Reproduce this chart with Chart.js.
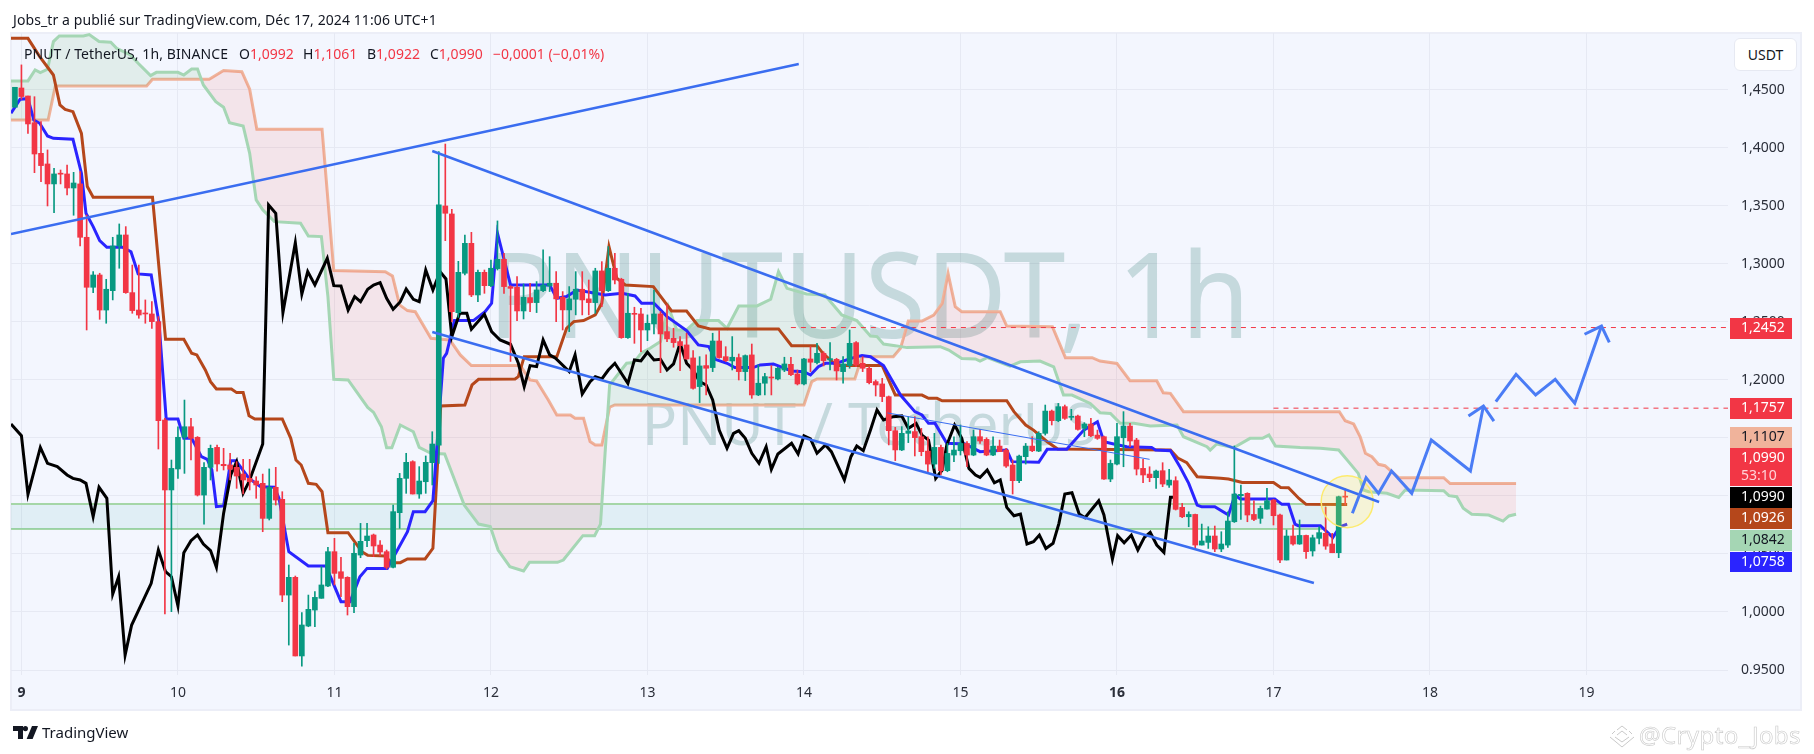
<!DOCTYPE html>
<html lang="fr">
<head>
<meta charset="utf-8">
<title>PNUT / TetherUS, 1h</title>
<script src="https://cdn.jsdelivr.net/npm/chart.js@4/dist/chart.umd.min.js"></script>
<style>
    html, body { margin: 0; padding: 0; background: #fff; }
    #wrap { position: relative; width: 1814px; height: 754px; overflow: hidden; font-family: "Noto Sans", sans-serif; color: #131722; }
    canvas { position: absolute; left: 0; top: 0; }
    .txt { position: absolute; white-space: nowrap; line-height: 1; font-size: 14px; }
    .red { color: #f23645; }
    #usdt { position: absolute; left: 1734px; top: 38px; width: 61px; height: 31px; background: #fff; border: 1px solid #e6e9f2; border-radius: 6px; text-align: center; line-height: 31px; font-size: 14px; }
    #mark { -webkit-text-stroke: 0.6px #c9c9c9; color: #fff; font-size: 24px; letter-spacing: 0.4px; }
</style>
</head>
<body>
<div id="wrap">
    <canvas id="chart" width="1814" height="754"></canvas>
    <div class="txt" style="left:13px;top:13px;letter-spacing:0.09px">Jobs_tr a publié sur TradingView.com, Déc 17, 2024 11:06 UTC+1</div>
    <div class="txt" style="left:24px;top:47px;letter-spacing:0.08px">PNUT / TetherUS, 1h, BINANCE</div>
    <div class="txt" style="left:239px;top:47px">O<span class="red">1,0992</span></div>
    <div class="txt" style="left:303px;top:47px">H<span class="red">1,1061</span></div>
    <div class="txt" style="left:367px;top:47px">B<span class="red">1,0922</span></div>
    <div class="txt" style="left:430px;top:47px">C<span class="red">1,0990</span></div>
    <div class="txt red" style="left:493px;top:47px">−0,0001 (−0,01%)</div>
    <div id="usdt">USDT</div>
    <svg style="position:absolute;left:13px;top:726px" width="25" height="13" viewBox="0 0 25 13"><path fill="#131722" d="M0 0h10v13H5V5H0zM15 2.6a2.6 2.6 0 1 1-5.2 0 2.6 2.6 0 0 1 5.2 0zM19 0h6l-5.4 13h-6z"/></svg>
    <div class="txt" style="left:42px;top:725px;font-size:15px">TradingView</div>
    <svg style="position:absolute;left:1608px;top:724px" width="28" height="24" viewBox="0 0 28 24" fill="none" stroke="#c9c9c9" stroke-width="1"><path d="M9 6l5-4 5 4M4 10l3-3M24 10l-3-3M9 11l5-4 5 4M2 13l12 10 12-10M7 13l7 5 7-5"/></svg>
    <div class="txt" id="mark" style="left:1639px;top:723px">@Crypto_Jobs</div>
</div>
<script>
// Hourly candles, first one is Dec 8 23:00, last one is Dec 17 11:00
const firstCandleHour = -1;
const candleOpen = [
    1.4351,1.4517,1.4448,1.4218,1.3954,1.3862,1.3690,1.3782,1.3776,1.3655,
    1.3690,1.3230,1.2799,1.2905,1.2603,1.2770,1.3155,1.3250,1.2753,1.2603,
    1.2575,1.2569,1.2503,1.1655,1.1052,1.1233,1.1506,1.1597,1.1506,1.1008,
    1.1247,1.1419,1.1273,1.1267,1.1247,1.1189,1.1152,1.1129,1.1109,1.0807,
    1.1075,1.0971,1.0146,1.0299,0.9621,0.9879,1.0017,1.0118,1.0224,1.0520,
    1.0347,1.0299,1.0046,1.0491,1.0615,1.0664,1.0577,1.0520,1.0385,1.0856,
    1.1152,1.1296,1.1017,1.1123,1.1287,1.1439,1.3500,1.3431,1.2580,1.2920,
    1.3178,1.2733,1.2928,1.2813,1.2960,1.3040,1.2805,1.2799,1.2595,1.2710,
    1.2667,1.2770,1.2811,1.2834,1.2713,1.2604,1.2696,1.2782,1.2699,1.2667,
    1.2940,1.2770,1.2963,1.2868,1.2365,1.2569,1.2569,1.2431,1.2483,1.2569,
    1.2417,1.2359,1.2331,1.2302,1.2190,1.1943,1.2124,1.2107,1.2336,1.2201,
    1.2164,1.2193,1.2072,1.2216,1.1871,1.1972,1.2023,1.2009,1.2086,1.2135,
    1.2052,1.1966,1.2181,1.2150,1.2230,1.2173,1.2178,1.2072,1.2124,1.2322,
    1.2144,1.2101,1.1986,1.1966,1.1856,1.1563,1.1397,1.1540,1.1555,1.1511,
    1.1387,1.1275,1.1419,1.1218,1.1353,1.1390,1.1453,1.1353,1.1511,1.1488,
    1.1353,1.1430,1.1396,1.1267,1.1132,1.1339,1.1430,1.1387,1.1540,1.1732,
    1.1649,1.1770,1.1678,1.1689,1.1583,1.1620,1.1525,1.1511,1.1146,1.1275,
    1.1502,1.1603,1.1482,1.1238,1.1189,1.1158,1.1218,1.1094,1.1132,1.0902,
    1.0821,1.0841,1.0577,1.0600,1.0655,1.0543,1.0577,1.0778,1.1002,1.1023,
    1.0841,1.0807,1.0887,1.0965,1.0836,1.0448,1.0655,1.0586,1.0660,1.0526,
    1.0635,1.0678,1.0586,1.0511,1.0992
];
const candleClose = [
    1.4523,1.4443,1.4207,1.3948,1.3848,1.3690,1.3776,1.3774,1.3655,1.3698,
    1.3230,1.2799,1.2905,1.2603,1.2782,1.3155,1.3250,1.2753,1.2598,1.2560,
    1.2569,1.2503,1.1649,1.1052,1.1238,1.1506,1.1597,1.1497,1.1008,1.1247,
    1.1411,1.1276,1.1261,1.1230,1.1172,1.1138,1.1123,1.1095,1.0807,1.1075,
    1.0965,1.0146,1.0299,0.9621,0.9888,1.0023,1.0126,1.0233,1.0520,1.0333,
    1.0290,1.0046,1.0506,1.0609,1.0655,1.0569,1.0517,1.0385,1.0865,1.1152,
    1.1290,1.1017,1.1129,1.1290,1.1448,1.3509,1.3437,1.2589,1.2928,1.3178,
    1.2733,1.2928,1.2813,1.2963,1.3040,1.2805,1.2790,1.2595,1.2713,1.2667,
    1.2776,1.2819,1.2834,1.2699,1.2604,1.2699,1.2782,1.2690,1.2667,1.2940,
    1.2770,1.2963,1.2862,1.2365,1.2575,1.2566,1.2431,1.2489,1.2569,1.2397,
    1.2354,1.2322,1.2296,1.2181,1.1928,1.2121,1.2101,1.2336,1.2193,1.2167,
    1.2196,1.2072,1.2210,1.1871,1.1972,1.2029,1.2017,1.2101,1.2138,1.2046,
    1.1966,1.2181,1.2153,1.2230,1.2167,1.2184,1.2078,1.2138,1.2316,1.2130,
    1.2101,1.1977,1.1957,1.1857,1.1563,1.1397,1.1540,1.1561,1.1503,1.1382,
    1.1275,1.1419,1.1218,1.1367,1.1396,1.1453,1.1353,1.1511,1.1474,1.1353,
    1.1430,1.1382,1.1258,1.1132,1.1344,1.1430,1.1390,1.1540,1.1732,1.1649,
    1.1770,1.1669,1.1683,1.1574,1.1620,1.1520,1.1497,1.1146,1.1281,1.1511,
    1.1603,1.1474,1.1232,1.1181,1.1158,1.1215,1.1103,1.1137,1.0885,1.0821,
    1.0841,1.0577,1.0612,1.0655,1.0543,1.0586,1.0784,1.1017,1.1014,1.0836,
    1.0798,1.0893,1.0959,1.0830,1.0448,1.0655,1.0586,1.0660,1.0520,1.0640,
    1.0684,1.0568,1.0511,1.0994,1.0990
];
const candleHigh = [
    1.4523,1.4716,1.4448,1.4442,1.4227,1.3983,1.3825,1.3810,1.3853,1.3790,
    1.3796,1.3422,1.2934,1.2920,1.2868,1.3230,1.3345,1.3322,1.2991,1.2991,
    1.2690,1.2675,1.2546,1.1669,1.1310,1.1597,1.1827,1.1669,1.1512,1.1287,
    1.1439,1.1439,1.1411,1.1368,1.1296,1.1316,1.1316,1.1166,1.1189,1.1233,
    1.1247,1.1037,1.0405,1.0310,0.9994,1.0146,1.0175,1.0391,1.0557,1.0635,
    1.0471,1.0304,1.0592,1.0764,1.0764,1.0672,1.0615,1.0534,1.0922,1.1195,
    1.1368,1.1304,1.1253,1.1345,1.1554,1.3968,1.4034,1.3471,1.3023,1.3250,
    1.3273,1.2948,1.2948,1.3034,1.3371,1.3092,1.2813,1.2891,1.2828,1.2834,
    1.2848,1.3121,1.3063,1.2934,1.2762,1.2805,1.2934,1.2934,1.2862,1.2963,
    1.3020,1.3150,1.3092,1.2877,1.2747,1.2627,1.2618,1.2561,1.2776,1.2589,
    1.2647,1.2446,1.2374,1.2403,1.2253,1.2201,1.2216,1.2403,1.2426,1.2287,
    1.2374,1.2224,1.2216,1.2310,1.2130,1.2058,1.2124,1.2109,1.2196,1.2196,
    1.2086,1.2187,1.2288,1.2316,1.2244,1.2322,1.2187,1.2201,1.2431,1.2331,
    1.2201,1.2115,1.2000,1.2014,1.1862,1.1592,1.1598,1.1684,1.1684,1.1583,
    1.1511,1.1540,1.1439,1.1453,1.1511,1.1612,1.1468,1.1568,1.1574,1.1502,
    1.1511,1.1482,1.1410,1.1310,1.1353,1.1453,1.1511,1.1554,1.1784,1.1741,
    1.1798,1.1784,1.1747,1.1698,1.1632,1.1669,1.1568,1.1517,1.1310,1.1626,
    1.1727,1.1626,1.1497,1.1316,1.1252,1.1224,1.1287,1.1229,1.1166,1.0936,
    1.0864,1.0844,1.0758,1.0735,1.0741,1.0692,1.0864,1.1431,1.1094,1.1028,
    1.0959,1.0913,1.1066,1.0971,1.0844,1.0707,1.0750,1.0793,1.0663,1.0663,
    1.0735,1.0902,1.0678,1.0999,1.1061
];
const candleLow = [
    1.4351,1.4420,1.4126,1.3787,1.3710,1.3500,1.3443,1.3690,1.3595,1.3420,
    1.3155,1.2431,1.2753,1.2523,1.2489,1.2690,1.2963,1.2747,1.2575,1.2532,
    1.2489,1.2445,1.1405,0.9983,1.0003,1.1152,1.1195,1.1310,1.1000,1.0758,
    1.1138,1.1215,1.1224,1.1138,1.1066,1.1017,1.1052,1.0980,1.0692,1.0793,
    1.0922,1.0089,0.9715,0.9621,0.9534,0.9873,0.9873,1.0118,1.0218,1.0233,
    1.0132,0.9974,0.9994,1.0468,1.0563,1.0477,1.0485,1.0370,1.0379,1.0721,
    1.1023,1.1017,1.0980,1.1023,1.1095,1.1281,1.3201,1.2503,1.2540,1.2905,
    1.2718,1.2675,1.2747,1.2805,1.2948,1.2747,1.2160,1.2512,1.2526,1.2589,
    1.2581,1.2762,1.2762,1.2503,1.2431,1.2417,1.2561,1.2561,1.2561,1.2575,
    1.2632,1.2762,1.2828,1.2359,1.2359,1.2316,1.2245,1.2339,1.2397,1.2063,
    1.2331,1.2282,1.2081,1.2178,1.1920,1.1805,1.1871,1.2072,1.2187,1.2158,
    1.2086,1.2000,1.1995,1.1842,1.1865,1.1871,1.1871,1.2000,1.2072,1.2037,
    1.1957,1.1957,1.2072,1.2138,1.2121,1.2086,1.2000,1.1972,1.2101,1.2115,
    1.2072,1.1966,1.1862,1.1813,1.1440,1.1305,1.1391,1.1460,1.1345,1.1347,
    1.1195,1.1238,1.1181,1.1209,1.1295,1.1353,1.1252,1.1347,1.1453,1.1347,
    1.1347,1.1382,1.1247,1.1017,1.1114,1.1275,1.1382,1.1382,1.1525,1.1612,
    1.1640,1.1660,1.1655,1.1568,1.1511,1.1511,1.1488,1.1143,1.1123,1.1267,
    1.1252,1.1425,1.1181,1.1114,1.1123,1.1066,1.1080,1.1074,1.0879,1.0813,
    1.0735,1.0540,1.0577,1.0548,1.0520,1.0520,1.0557,1.0772,1.0798,1.0778,
    1.0787,1.0764,1.0887,1.0750,1.0425,1.0448,1.0577,1.0583,1.0462,1.0482,
    1.0586,1.0540,1.0511,1.0468,1.0922
];

// Ichimoku lines as [hour, price] pairs
const tenkan = [
    [-1.6,1.4300],[-0.2,1.4420],[1,1.4425],[1.9,1.4241],[2.8,1.4213],[4,1.4103],[4.9,1.4083],[7.9,1.4075],[9.2,1.3782],[9.9,1.3437],
    [11,1.3322],[12,1.3201],[13.1,1.3144],[15.5,1.3144],[16.8,1.3106],[17.9,1.2914],[19.9,1.2905],[21.1,1.2489],[22.2,1.1664],[24,1.1664],
    [24.9,1.1497],[26.1,1.1497],[27.6,1.1339],[28.5,1.1316],[29.2,1.1224],[29.9,1.0908],[31,1.0914],[32.1,1.1304],[32.9,1.1304],[34.9,1.1152],
    [36.7,1.1080],[38.8,1.1075],[39.5,1.0980],[41,1.0520],[44,1.0396],[46.7,1.0396],[49,1.0089],[50.4,1.0089],[51.9,1.0304],[53,1.0376],
    [56.1,1.0376],[59.2,1.0692],[60.1,1.0865],[61.9,1.0865],[63.1,1.0960],[64.7,1.2187],[65.2,1.2230],[66.4,1.2512],[69.3,1.2512],[71.1,1.2589],
    [72.1,1.2661],[73,1.3265],[75,1.2819],[81,1.2819],[82.1,1.2704],[83.6,1.2719],[85.2,1.2776],[89.5,1.2733],[92.1,1.2747],[94.1,1.2724],
    [95.1,1.2661],[97,1.2661],[99,1.2546],[102,1.2426],[103.8,1.2302],[105.4,1.2288],[106.4,1.2178],[108.2,1.2144],[109.4,1.2107],[112.2,1.2107],
    [113.3,1.2130],[115.3,1.2138],[118.1,1.2078],[120,1.2072],[121,1.2043],[122.2,1.2115],[123.3,1.2144],[125,1.2144],[127.6,1.2193],[128.9,1.2210],
    [130.2,1.2201],[132.2,1.2124],[134.8,1.1870],[137,1.1727],[138.1,1.1698],[139.1,1.1626],[140.1,1.1626],[141.9,1.1454],[144.7,1.1448],[147,1.1382],
    [151.1,1.1396],[151.9,1.1296],[156,1.1290],[157.3,1.1402],[160.3,1.1402],[162.9,1.1568],[165,1.1640],[166,1.1468],[167.5,1.1448],[169.5,1.1425],
    [173.3,1.1419],[173.9,1.1396],[176.2,1.1390],[177.7,1.1247],[179,1.1109],[180.3,1.0922],[181,1.0907],[183,1.0907],[185.1,1.0836],[186.1,1.1008],
    [186.9,1.0974],[192.2,1.0974],[193.3,1.0928],[194.3,1.0928],[195.3,1.0758],[195.8,1.0744],[199.2,1.0744],[201.1,1.0643],[202.2,1.0735],[203.3,1.0758]
];
const kijun = [
    [-1.6,1.4945],[1,1.4945],[2.8,1.4787],[4.9,1.4629],[5.9,1.4371],[6.7,1.4333],[7.9,1.4313],[9.2,1.4126],[10.1,1.3667],[11,1.3575],
    [20.1,1.3575],[22.1,1.2351],[24.9,1.2351],[26.1,1.2230],[26.9,1.2216],[28.2,1.2086],[29,1.1985],[29.9,1.1922],[32.2,1.1922],[33,1.1891],
    [34,1.1891],[34.9,1.1692],[35.8,1.1664],[40,1.1664],[41.3,1.1497],[42.1,1.1310],[42.9,1.1267],[44,1.1109],[45.2,1.1100],[46.1,1.1037],
    [47,1.0684],[50.1,1.0684],[52.2,1.0520],[53.1,1.0488],[55.8,1.0483],[56.7,1.0425],[58.1,1.0425],[59.2,1.0457],[61.9,1.0457],[63.1,1.0549],
    [64.3,1.1776],[68,1.1785],[69.1,1.1957],[70.1,1.2006],[75.7,1.2009],[76.2,1.2029],[77.1,1.2201],[82.1,1.2201],[83.6,1.2446],[84.7,1.2503],
    [86.2,1.2512],[88,1.2561],[89,1.2661],[90.1,1.3150],[91.3,1.2877],[92.6,1.2819],[96.9,1.2805],[99.7,1.2595],[102,1.2595],[103.8,1.2466],
    [105.6,1.2440],[116.1,1.2440],[118.1,1.2296],[122,1.2296],[122.9,1.2230],[125,1.2124],[132,1.2124],[134,1.1871],[138.1,1.1870],[139.1,1.1842],
    [140.4,1.1842],[141.2,1.1821],[151.1,1.1821],[152.2,1.1727],[154,1.1612],[155.2,1.1568],[157.3,1.1468],[158.9,1.1405],[176.2,1.1396],[177.4,1.1324],
    [178.7,1.1287],[180.3,1.1166],[183.9,1.1152],[185.1,1.1146],[187.2,1.1117],[192,1.1117],[193.1,1.1074],[194.3,1.1071],[195.9,1.0979],[197,1.0928],
    [203.3,1.0926]
];
const senkouA = [
    [-1.6,1.4578],[1,1.4578],[2.1,1.4672],[2.9,1.4649],[4,1.4678],[4.9,1.4917],[5.8,1.4966],[9.5,1.4966],[10.4,1.4977],[11.9,1.4917],
    [13.7,1.4911],[14.6,1.4859],[16.7,1.4802],[17.9,1.4730],[19.8,1.4624],[20.7,1.4652],[24,1.4652],[24.9,1.4629],[26.1,1.4681],[27,1.4681],
    [27.9,1.4543],[29.8,1.4399],[31,1.4351],[31.9,1.4218],[34,1.4190],[35,1.3954],[36,1.3552],[37,1.3466],[38.8,1.3365],[42.8,1.3351],
    [44,1.3241],[46,1.3236],[47,1.2718],[47.9,1.2006],[50.1,1.2000],[53.1,1.1764],[54,1.1721],[55.2,1.1597],[56,1.1416],[56.8,1.1416],
    [58.1,1.1612],[60.1,1.1554],[61,1.1419],[62.8,1.1368],[64.9,1.1362],[67.9,1.0922],[70.1,1.0758],[71.9,1.0736],[73.1,1.0534],[74.9,1.0391],
    [77,1.0353],[77.9,1.0428],[82.2,1.0428],[83.1,1.0448],[86.1,1.0658],[87.9,1.0658],[88.8,1.0758],[89.5,1.1368],[90.2,1.1957],[92.8,1.2144],
    [93.9,1.2150],[95.1,1.2236],[96.4,1.2273],[98,1.2331],[99.2,1.2632],[100.5,1.2431],[102,1.2431],[103.6,1.2512],[106.9,1.2512],[108.2,1.2446],
    [110,1.2638],[112.8,1.2638],[114.9,1.2696],[116.1,1.2934],[117.4,1.2790],[120.4,1.2741],[123.2,1.2733],[125.8,1.2561],[128.1,1.2512],[130.2,1.2379],
    [131.2,1.2374],[132.2,1.2310],[134,1.2296],[135.8,1.2279],[140.9,1.2287],[142.2,1.2258],[144.2,1.2186],[146.3,1.2181],[147,1.2163],[148.1,1.2192],
    [151.6,1.2120],[153.2,1.2157],[156.2,1.2163],[158.3,1.2114],[159.8,1.1870],[161.1,1.1870],[163.9,1.1798],[165.4,1.1718],[167,1.1712],[168.5,1.1626],
    [170.6,1.1626],[173.1,1.1603],[177.2,1.1612],[178.2,1.1511],[181.8,1.1425],[182.3,1.1396],[183.3,1.1448],[185.9,1.1416],[188.4,1.1497],[190.3,1.1497],
    [191.3,1.1525],[192.3,1.1431],[196.1,1.1417],[199.2,1.1411],[202,1.1397],[203.5,1.1296],[205,1.1195],[205.8,1.1052],[206.6,1.1037],[209.4,1.1023],
    [211.2,1.0988],[212.2,1.1052],[218.1,1.1046],[218.9,1.1003],[220.1,1.0994],[221.1,1.0894],[222.4,1.0842],[225,1.0836],[227.2,1.0784],[228.1,1.0828],
    [229.2,1.0842]
];
const senkouB = [
    [-1.6,1.4241],[4.1,1.4241],[5.2,1.4534],[19.2,1.4534],[20.1,1.4592],[28.8,1.4592],[31,1.4667],[33.8,1.4658],[35,1.4506],[36.1,1.4161],
    [46.1,1.4161],[47.9,1.2943],[55.8,1.2934],[56.9,1.2897],[58,1.2647],[59.2,1.2598],[60.4,1.2589],[62.8,1.2359],[65.7,1.2345],[67.3,1.2216],
    [69,1.2124],[76.5,1.2124],[78,1.2000],[79,1.1992],[80.8,1.1828],[82.1,1.1698],[84.2,1.1698],[84.9,1.1670],[86.2,1.1670],[87.2,1.1469],
    [88,1.1440],[89,1.1440],[90.2,1.1765],[91,1.1785],[120,1.1785],[121.2,1.1986],[122,1.2009],[127.8,1.2009],[128.9,1.2201],[133.7,1.2201],
    [134.8,1.2273],[136,1.2508],[138.1,1.2508],[139.9,1.2560],[141.2,1.2660],[142.1,1.2919],[143.2,1.2632],[144.2,1.2589],[150.1,1.2589],[151.1,1.2465],
    [158.1,1.2459],[160.1,1.2192],[164.2,1.2192],[165.4,1.2163],[168,1.2143],[170,1.1994],[174.1,1.1994],[175.1,1.1890],[176.2,1.1885],[178.2,1.1727],
    [202.1,1.1727],[203,1.1649],[204.3,1.1621],[205.3,1.1511],[206.1,1.1368],[207.1,1.1339],[208.1,1.1273],[209.1,1.1261],[211.2,1.1158],[218.1,1.1158],
    [219.1,1.1107],[229.2,1.1107]
];
const chikou = [
    [-1.6,1.1620],[0,1.1520],[1,1.1014],[2.9,1.1419],[4,1.1281],[5.5,1.1253],[7,1.1181],[7.9,1.1152],[9,1.1138],[9.9,1.1109],
    [11,1.0822],[11.9,1.1075],[13.1,1.0980],[14,1.0155],[14.9,1.0304],[15.9,0.9629],[16.9,0.9888],[19.9,1.0247],[21,1.0534],[22.1,1.0348],
    [23,1.0304],[24,1.0052],[24.9,1.0511],[26,1.0615],[27,1.0664],[27.9,1.0586],[29,1.0529],[29.9,1.0385],[31,1.0850],[32.1,1.1181],
    [33,1.1296],[34,1.1023],[34.9,1.1123],[37,1.1448],[37.9,1.3509],[39,1.3437],[40.1,1.2580],[42,1.3184],[43,1.2741],[43.9,1.2934],
    [45,1.2819],[46.9,1.3049],[47.9,1.2813],[49,1.2810],[50.1,1.2603],[51.1,1.2718],[52,1.2675],[53.1,1.2782],[54,1.2819],[55,1.2839],
    [56,1.2704],[57,1.2609],[58.1,1.2675],[59,1.2784],[60.1,1.2695],[61,1.2675],[62,1.2948],[63.1,1.2776],[64.2,1.2934],[65.1,1.2871],
    [66,1.2374],[67.2,1.2575],[68.3,1.2575],[69,1.2437],[71,1.2566],[72.1,1.2417],[73.4,1.2345],[75,1.2308],[76.2,1.2144],[77.1,1.1943],
    [78,1.2124],[79,1.2115],[80,1.2345],[81,1.2216],[81.9,1.2187],[84,1.2072],[84.9,1.2216],[86,1.1880],[87.2,1.1986],[88,1.2029],
    [89,1.2009],[90,1.2086],[91,1.2144],[93,1.1971],[94,1.2173],[95,1.2164],[96,1.2239],[97,1.2173],[98,1.2178],[99,1.2086],
    [100,1.2138],[101,1.2316],[102,1.2144],[103,1.2086],[104,1.1986],[105,1.1957],[106,1.1828],[107,1.1569],[108.2,1.1411],[109.2,1.1540],
    [110,1.1563],[111,1.1497],[112,1.1368],[113.1,1.1282],[114.2,1.1425],[115,1.1230],[116,1.1362],[118.1,1.1454],[119.1,1.1362],[120,1.1518],
    [121,1.1492],[122,1.1368],[123.3,1.1440],[124.2,1.1382],[126.2,1.1138],[127.2,1.1339],[128.1,1.1431],[129.1,1.1391],[130.2,1.1569],[131.2,1.1742],
    [132.2,1.1655],[133.7,1.1684],[135,1.1690],[136,1.1583],[137.2,1.1626],[138.1,1.1525],[139.1,1.1482],[140.2,1.1152],[141.2,1.1224],[141.9,1.1439],
    [143.1,1.1612],[144.2,1.1497],[145.3,1.1238],[146.3,1.1181],[147,1.1160],[148.1,1.1224],[149.2,1.1114],[150.1,1.1138],[151.1,1.0902],[152.2,1.0830],
    [153.2,1.0844],[154.2,1.0586],[155.2,1.0606],[156.1,1.0663],[157.1,1.0548],[158.2,1.0592],[159.1,1.0764],[160,1.1017],[161.1,1.1028],[162.2,1.0844],
    [163.1,1.0813],[165.2,1.0959],[166,1.0836],[167.3,1.0456],[168.1,1.0658],[169.1,1.0597],[170.2,1.0663],[171.2,1.0534],[172.2,1.0643],[173.1,1.0686],
    [174.1,1.0577],[175.2,1.0514],[176.2,1.0990],[176.7,1.0990]
];

// Drawn lines and zones
const risingLine = [[-1.6,1.3259],[119.2,1.4724]];
const upperChannel = [[63,1.3974],[208.2,1.0948]];
const lowerChannel = [[63,1.2414],[198.2,1.0250]];
const thinLine = [[132.8,1.1716],[173,1.1316]];
const zoneTop = [[-1.6,1.0931],[200,1.0931]];
const zoneBottom = [[-1.6,1.0716],[200,1.0716]];
const zoneEdge = [[200,1.0931],[200,1.0716]];
const targetHigh = [[118,1.2452],[261.7,1.2452]];
const targetLow = [[192,1.1757],[261.7,1.1757]];
const forecastA = [[204.1,1.0851],[206.2,1.1158],[208.1,1.1023],[210.1,1.1215],[213.2,1.1023],[216.2,1.1483],[222.2,1.1215],[224.2,1.1776]];
const forecastHeadA = [[221.9,1.1690],[224.2,1.1776],[225.8,1.1646]];
const forecastB = [[226.1,1.1813],[229.2,1.2049],[232.2,1.1871],[235.2,1.2006],[238.2,1.1799],[242.3,1.2465]];
const forecastHeadB = [[239.7,1.2394],[242.3,1.2465],[243.5,1.2325]];
const highlight = [[203.3,1.0951]];

// Axis ticks
const dayTicks = [0,24,48,72,96,120,144,168,192,216,240];
const dayLabels = ['9','10','11','12','13','14','15','16','17','18','19'];
const boldDays = ['9','16'];
const priceTicks = [1.45,1.40,1.35,1.30,1.25,1.20,1.15,1.10,1.05,1.00,0.95];
const priceLabels = ['1,4500','1,4000','1,3500','1,3000','1,2500','1,2000','1,1500','1,1000','1,0500','1,0000','0.9500'];

// Price tags stacked on the right axis
const tagValues = [1.2452,1.1757,1.1107,1.0990,1.0990,1.0926,1.0842,1.0758];
const tagColors = ['#f23645','#f23645','#f0b39b','#f23645','#000000','#b5471b','#a5d6b4','#2a24ff'];
const tagText = ['#fff','#fff','#131722','#fff','#fff','#fff','#131722','#fff'];
const tagTops = [318,398,427,448,487,508,530,552];
const tagHeights = [21,21,21,38,21,21,21,20];
const countdown = '53:10';

const FONT = '"Noto Sans", sans-serif';
const pts = pairs => pairs.map(([x, y]) => ({ x, y }));
const candleHours = candleOpen.map((_, i) => firstCandleHour + i);
const candleColor = candleOpen.map((o, i) => candleClose[i] >= o ? '#089981' : '#f23645');

function lineSet(data, color, width, order, extra) {
    return Object.assign({
        type: 'line', data: pts(data), borderColor: color, borderWidth: width,
        pointRadius: 0, tension: 0, fill: false, order
    }, extra || {});
}

// Page panel and the big symbol text behind the series
const backdrop = {
    id: 'backdrop',
    beforeDraw(chart) {
        const { ctx } = chart;
        ctx.save();
        ctx.fillStyle = '#f3f6fe';
        ctx.fillRect(11, 33, 1790, 677);
        ctx.strokeStyle = '#eceef7';
        ctx.lineWidth = 2;
        ctx.strokeRect(11, 33, 1790, 677);
        ctx.restore();
    },
    beforeDatasetsDraw(chart) {
        const { ctx } = chart;
        ctx.save();
        ctx.fillStyle = 'rgba(30,110,100,0.21)';
        ctx.font = '119px ' + FONT;
        ctx.fillText('PNUTUSDT, 1h', 488, 338, 762);
        ctx.font = '59px ' + FONT;
        ctx.fillText('PNUT / TetherUS', 642, 445, 455);
        ctx.restore();
    }
};

// Last value tags next to the price scale
const priceTags = {
    id: 'priceTags',
    afterDraw(chart) {
        const { ctx } = chart;
        ctx.save();
        ctx.textBaseline = 'middle';
        tagValues.forEach((value, i) => {
            ctx.fillStyle = tagColors[i];
            ctx.fillRect(1730, tagTops[i], 62, tagHeights[i]);
            ctx.fillStyle = tagText[i];
            ctx.font = '14px ' + FONT;
            const label = value.toFixed(4).replace('.', ',');
            if (tagHeights[i] > 30) {
                ctx.fillText(label, 1741, tagTops[i] + 10);
                ctx.fillStyle = '#ffd3d8';
                ctx.fillText(countdown, 1741, tagTops[i] + 28);
            } else {
                ctx.fillText(label, 1741, tagTops[i] + tagHeights[i] / 2);
            }
        });
        ctx.restore();
    }
};

const datasets = [
    // zone and cloud sit at the back
    lineSet(zoneTop, '#a5d6a7', 2, 30, { fill: { target: '+1', above: 'rgba(0,150,136,0.08)', below: 'rgba(0,150,136,0.08)' } }),
    lineSet(zoneBottom, '#a5d6a7', 2, 30),
    lineSet(zoneEdge, '#a5d6a7', 1, 30),
    lineSet(senkouA, '#a5d6b4', 3, 20, { fill: { target: '+1', above: 'rgba(67,160,71,0.1)', below: 'rgba(244,67,54,0.1)' } }),
    lineSet(senkouB, '#f0b39b', 3, 20),
    lineSet(tenkan, '#2a24ff', 3, 12),
    lineSet(kijun, '#b5471b', 3, 12),
    lineSet(chikou, '#000000', 3, 11),
    {
        type: 'bar', grouped: false, barThickness: 1, order: 6,
        data: candleHours.map((x, i) => ({ x, y: [candleLow[i], candleHigh[i]] })),
        backgroundColor: candleColor
    },
    {
        type: 'bar', grouped: false, barThickness: 5, minBarLength: 1, order: 5,
        data: candleHours.map((x, i) => ({ x, y: [candleOpen[i], candleClose[i]] })),
        backgroundColor: candleColor
    },
    lineSet(highlight, '#fdeb6e', 1.5, 4, { showLine: false, pointRadius: 26, pointBackgroundColor: 'rgba(255,235,59,0.2)', pointBorderColor: '#fdeb6e', pointBorderWidth: 1.5 }),
    lineSet(targetHigh, '#f23645', 1, 3, { borderDash: [5, 5] }),
    lineSet(targetLow, '#f23645', 1, 3, { borderDash: [5, 5] }),
    lineSet(risingLine, '#3a6df0', 2.5, 2),
    lineSet(upperChannel, '#3a6df0', 2.5, 2),
    lineSet(lowerChannel, '#3a6df0', 2.5, 2),
    lineSet(thinLine, '#3a6df0', 1, 2),
    lineSet(forecastA, '#4a7cf5', 3, 1),
    lineSet(forecastHeadA, '#4a7cf5', 3, 1),
    lineSet(forecastB, '#4a7cf5', 3, 1),
    lineSet(forecastHeadB, '#4a7cf5', 3, 1)
];

new Chart(document.getElementById('chart'), {
    type: 'bar',
    data: { datasets },
    plugins: [backdrop, priceTags],
    options: {
        responsive: false,
        animation: false,
        // the highlight circle must not push the plot edges inward
        layout: { autoPadding: false, padding: { left: 11, top: 33, right: 0, bottom: 0 } },
        plugins: { legend: { display: false }, tooltip: { enabled: false } },
        scales: {
            x: {
                type: 'linear',
                offset: false,
                min: -1.6,
                max: 261.7,
                // keep the plot edges fixed whatever the first label measures
                afterFit: scale => { scale.height = 84; scale.paddingLeft = 0; scale.paddingRight = 0; },
                afterBuildTicks: scale => { scale.ticks = dayTicks.map(value => ({ value })); },
                grid: { color: '#e6e9f3', tickLength: 5, offset: false },
                border: { display: false },
                ticks: {
                    autoSkip: false,
                    maxRotation: 0,
                    padding: 10,
                    color: '#2a2e39',
                    font: ctx => ({
                        family: FONT, size: 14,
                        weight: ctx.tick && boldDays.includes(dayLabels[dayTicks.indexOf(ctx.tick.value)]) ? 'bold' : 'normal'
                    }),
                    callback: value => dayLabels[dayTicks.indexOf(value)]
                }
            },
            y: {
                position: 'right',
                min: 0.95,
                max: 1.4991,
                afterFit: scale => { scale.width = 86; scale.paddingTop = 0; scale.paddingBottom = 0; },
                afterBuildTicks: scale => { scale.ticks = priceTicks.map(value => ({ value })); },
                grid: { color: '#e6e9f3', drawTicks: false },
                border: { display: false },
                ticks: {
                    padding: 13,
                    color: '#2a2e39',
                    font: { family: FONT, size: 14 },
                    callback: (value, index) => priceLabels[index]
                }
            }
        }
    }
});
</script>
</body>
</html>
